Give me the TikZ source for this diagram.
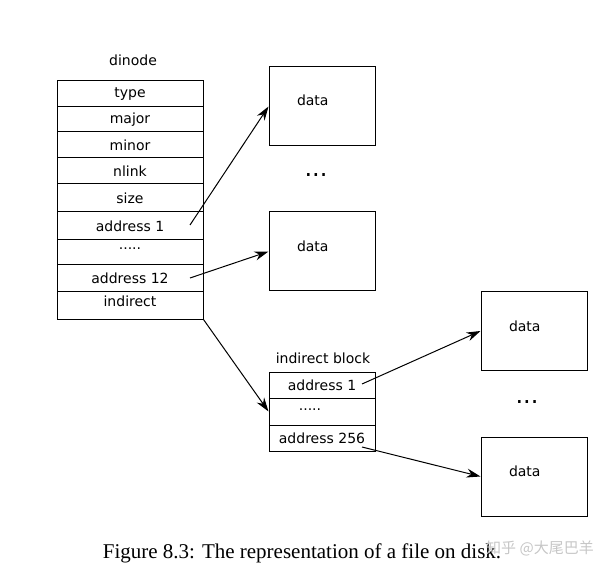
\documentclass[tikz,border=0pt]{standalone}
\usepackage{fontspec}
\setmainfont{DejaVu Sans}
\newfontfamily\capfont{Liberation Serif}
\newfontfamily\cjk{Noto Sans CJK SC}
\usetikzlibrary{arrows.meta}

\begin{document}
\begin{tikzpicture}[x=1pt,y=-1pt,->,>={Stealth[length=14pt,width=9pt]},line width=1pt,
    every node/.style={font=\fontsize{14}{16}\selectfont},
    cell/.style={draw,minimum width=146pt,inner sep=0pt},
    blk/.style={draw,minimum width=106pt,inner sep=0pt},
    box/.style={draw,minimum width=106pt,minimum height=79pt,text width=86pt,align=left},
    dots/.style={font=\fontsize{24}{24}\selectfont}]
\useasboundingbox (0,0) rectangle (600,572);

\node at (133,60) {dinode};
\node[cell,minimum height=26pt] (type) at (130,94) {type};
\node[cell,minimum height=25pt] (major) at (130,119.5) {major};
\node[cell,minimum height=26pt] (minor) at (130,145) {minor};
\node[cell,minimum height=26pt] (nlink) at (130,171) {nlink};
\node[cell,minimum height=28pt] (size) at (130,198) {size};
\node[cell,minimum height=28pt] (addr1) at (130,226) {address 1};
\node[cell,minimum height=25pt] (dots1) at (130,252.5) {\raisebox{1ex}{.....}};
\node[cell,minimum height=27pt] (addr12) at (130,278.5) {address 12};
\node[cell,minimum height=27pt,text depth=9pt] (indirect) at (130,305.5) {indirect};

\node[box,text depth=12pt] (data1) at (322,106.5) {\hspace*{18pt}data};
\node[dots] at (316,175) {...};
\node[box,text depth=10pt] (data2) at (322,251.5) {\hspace*{18pt}data};

\node at (323,358) {indirect block};
\node[blk,minimum height=26pt] (iaddr1) at (322,385) {address 1};
\node[blk,minimum height=27pt] (idots) at (322,411.5) {\hspace*{-24pt}\raisebox{.5ex}{.....}};
\node[blk,minimum height=26pt] (iaddr256) at (322,438) {address 256};

\node[box,text depth=10pt] (data3) at (534,331) {\hspace*{18pt}data};
\node[dots] at (527,402) {...};
\node[box,text depth=10pt] (data4) at (534,476.5) {\hspace*{18pt}data};

\coordinate (a1) at (190,225);
\coordinate (a12) at (190,278);
\coordinate (ia1) at (362,384);
\coordinate (ia256) at (362,447);

\draw (a1) -- (data1.west);
\draw (a12) -- (data2.west);
\draw (indirect.south east) -- (idots.west);
\draw (ia1) -- (data3.west);
\draw (ia256) -- (data4.west);

\node[font=\capfont\fontsize{21}{23}\selectfont] at (302,553) {Figure 8.3: The representation of a file on disk.};
\node[font=\cjk\fontsize{15}{17}\selectfont,text=gray!45] at (540,548) {知乎 @大尾巴羊};
\end{tikzpicture}
\end{document}
